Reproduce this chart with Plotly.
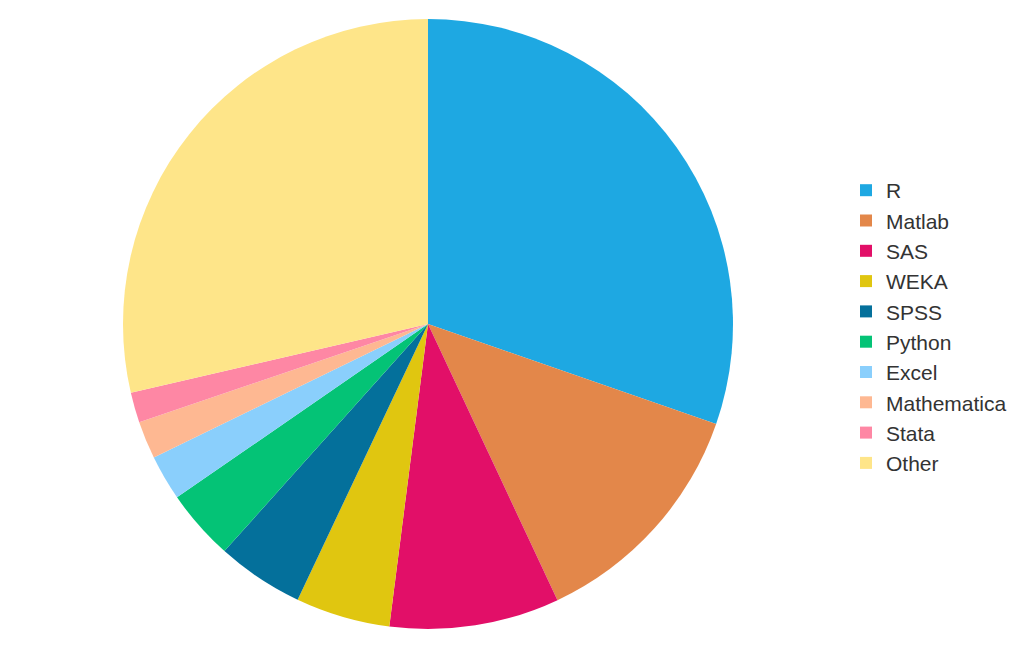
import plotly.graph_objects as go

# Tool usage share
tools = ['R', 'Matlab', 'SAS', 'WEKA', 'SPSS', 'Python', 'Excel',
         'Mathematica', 'Stata', 'Other']
share = [30.3, 12.7, 9.0, 5.0, 4.6, 3.75, 2.4, 2.0, 1.6, 28.6]
colors = ['#1ea8e2', '#e3874a', '#e20f68', '#e0c610', '#04709b',
          '#04c376', '#8acffc', '#feb892', '#fe87a4', '#fee589']

fig = go.Figure()

fig.add_trace(go.Pie(
    labels=tools,
    values=share,
    sort=False,
    direction='clockwise',
    rotation=0,
    marker=dict(colors=colors, line=dict(width=0)),
    textinfo='none',
    hoverinfo='label+percent',
    domain=dict(x=[115 / 1024, 725 / 1024], y=[0, 1]),
))

fig.update_layout(
    width=1024,
    height=650,
    margin=dict(l=0, r=0, t=11, b=29),
    paper_bgcolor='white',
    font=dict(family='Liberation Sans, Arial, sans-serif', size=21, color='#333333'),
    legend=dict(
        x=838 / 1024,
        xanchor='left',
        y=0.495,
        yanchor='middle',
        font=dict(size=21),
        itemwidth=30,
    ),
)

fig.write_html('out.html')
